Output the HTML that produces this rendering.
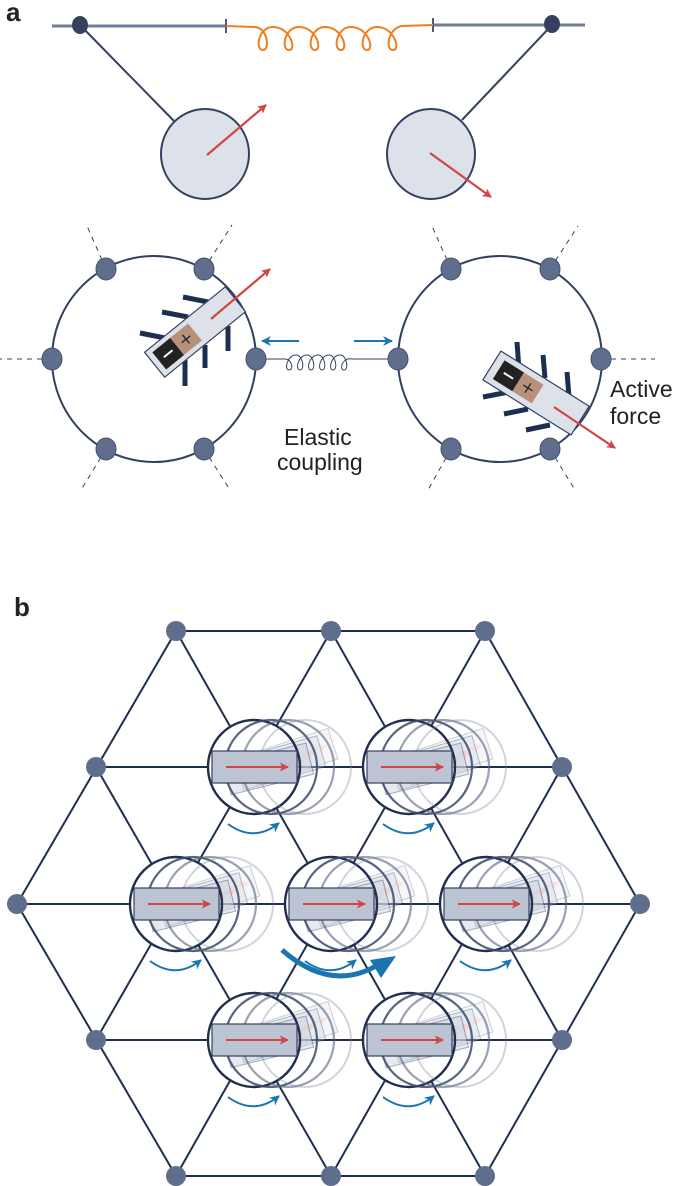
<!DOCTYPE html>
<html><head><meta charset="utf-8"><style>
html,body{margin:0;padding:0;background:#fff;}
svg{display:block;}
text{font-family:"Liberation Sans",sans-serif;}
</style></head><body>
<svg width="682" height="1186" viewBox="0 0 682 1186" xmlns="http://www.w3.org/2000/svg">
<defs>
<marker id="ar" markerWidth="9" markerHeight="9" refX="8" refY="4.5" orient="auto" markerUnits="userSpaceOnUse"><path d="M0,0 L9,4.5 L0,9 L2,4.5Z" fill="#d04545"/></marker>
<marker id="arg" markerWidth="9" markerHeight="9" refX="8" refY="4.5" orient="auto" markerUnits="userSpaceOnUse"><path d="M0,0 L9,4.5 L0,9 L2,4.5Z" fill="#e8a090"/></marker>
<marker id="ab" markerWidth="10" markerHeight="10" refX="9" refY="5" orient="auto" markerUnits="userSpaceOnUse"><path d="M0,0 L10,5 L0,10 L3,5Z" fill="#1a75b0"/></marker>
<g id="cell">
  <ellipse cx="0" cy="0" rx="46" ry="47" fill="#fff" stroke="none"/>
  <line x1="0" y1="0" x2="100" y2="0" stroke="#1f2f4f" stroke-width="2"/>
  <g transform="translate(38,-10) rotate(-18)" opacity="0.25"><rect x="-42" y="-16" width="85" height="32" fill="#d8dde8" stroke="#33415f"/><line x1="10" y1="0" x2="36" y2="0" stroke="#e8a090" stroke-width="2" marker-end="url(#arg)"/></g>
  <g transform="translate(26,-4) rotate(-16)" opacity="0.35"><rect x="-42" y="-16" width="85" height="32" fill="#d0d6e2" stroke="#33415f"/><line x1="10" y1="0" x2="36" y2="0" stroke="#e8a090" stroke-width="2" marker-end="url(#arg)"/></g>
  <g transform="translate(14,2) rotate(-14)" opacity="0.45"><rect x="-42" y="-16" width="85" height="32" fill="#c8cfdc" stroke="#33415f"/><line x1="10" y1="0" x2="36" y2="0" stroke="#e8a090" stroke-width="2" marker-end="url(#arg)"/></g>
  <ellipse cx="0" cy="0" rx="46" ry="47" fill="none" stroke="#1f2f4f" stroke-width="2.4"/>
  <ellipse cx="17" cy="0" rx="46" ry="47" fill="none" stroke="#3c4a68" stroke-width="2.2" opacity="0.85"/>
  <ellipse cx="34" cy="0" rx="46" ry="47" fill="none" stroke="#56627e" stroke-width="2.2" opacity="0.6"/>
  <ellipse cx="51" cy="0" rx="46" ry="47" fill="none" stroke="#7a84a0" stroke-width="2" opacity="0.35"/>
  <rect x="-42" y="-16" width="85" height="32" fill="#bcc4d4" stroke="#33415f" stroke-width="1.2"/>
  <line x1="-28" y1="0" x2="34" y2="0" stroke="#d04545" stroke-width="2" marker-end="url(#ar)"/>
  <path d="M-26,57 Q0,76 25,56" fill="none" stroke="#1a75b0" stroke-width="2" marker-end="url(#ab)"/>
</g>
</defs>

<!-- Panel a -->
<text x="6" y="21" font-size="26" font-weight="bold" fill="#222">a</text>
<line x1="52" y1="26" x2="226" y2="26" stroke="#6e7d98" stroke-width="3"/>
<line x1="433" y1="25" x2="585" y2="25" stroke="#6e7d98" stroke-width="3"/>
<line x1="226" y1="19" x2="226" y2="33" stroke="#4a5a78" stroke-width="2"/>
<line x1="433" y1="18" x2="433" y2="32" stroke="#4a5a78" stroke-width="2"/>
<path d="M226,26 L255,27 C268,28 270,50 263,50 C255,50 258,28 272,27 C290,26 297,50 289,50 C281,50 284,28 298,27 C316,26 323,50 315,50 C307,50 310,28 324,27 C342,26 349,50 341,50 C333,50 336,28 350,27 C368,26 375,50 367,50 C359,50 362,28 376,27 C394,26 401,50 393,50 C385,50 388,28 402,26 L433,25" fill="none" stroke="#f07f22" stroke-width="2"/>
<line x1="80" y1="25" x2="174" y2="121" stroke="#33415f" stroke-width="2"/>
<line x1="552" y1="25" x2="462" y2="120" stroke="#33415f" stroke-width="2"/>
<ellipse cx="80" cy="25" rx="8" ry="9" fill="#33415f"/>
<ellipse cx="552" cy="24" rx="8" ry="9" fill="#33415f"/>
<ellipse cx="205" cy="154" rx="44" ry="45" fill="#dde2ea" stroke="#33415f" stroke-width="2"/>
<ellipse cx="431" cy="154" rx="44" ry="45" fill="#dde2ea" stroke="#33415f" stroke-width="2"/>
<line x1="207" y1="155" x2="266" y2="105" stroke="#d04545" stroke-width="2.2" marker-end="url(#ar)"/>
<line x1="430" y1="153" x2="491" y2="197" stroke="#d04545" stroke-width="2.2" marker-end="url(#ar)"/>

<g stroke="#33415f" stroke-width="1" stroke-dasharray="5,5">
<line x1="106" y1="269" x2="87" y2="226"/><line x1="204" y1="269" x2="232" y2="225"/>
<line x1="52" y1="359" x2="0" y2="359"/><line x1="106" y1="449" x2="81" y2="490"/><line x1="204" y1="449" x2="230" y2="490"/>
<line x1="451" y1="269" x2="432" y2="226"/><line x1="550" y1="269" x2="578" y2="226"/>
<line x1="601" y1="359" x2="655" y2="359"/><line x1="451" y1="449" x2="428" y2="490"/><line x1="550" y1="449" x2="575" y2="490"/>
</g>
<ellipse cx="154" cy="359" rx="102" ry="103" fill="none" stroke="#33415f" stroke-width="2"/>
<ellipse cx="500" cy="359" rx="102" ry="103" fill="none" stroke="#33415f" stroke-width="2"/>
<path d="M256,359 L285,359 C292,359 294,370 289,370 C284,370 287,355 296,355 C303,355 305,370 300,370 C295,370 298,355 307,355 C314,355 316,370 311,370 C306,370 309,355 318,355 C325,355 327,370 322,370 C317,370 320,355 329,355 C336,355 338,370 333,370 C328,370 331,355 340,355 C347,355 349,370 344,370 C339,370 342,357 352,359 L398,359" fill="none" stroke="#33415f" stroke-width="1"/>
<line x1="299" y1="341" x2="262" y2="341" stroke="#1a75b0" stroke-width="2" marker-end="url(#ab)"/>
<line x1="354" y1="341" x2="392" y2="341" stroke="#1a75b0" stroke-width="2" marker-end="url(#ab)"/>
<g fill="#5e6e8c" stroke="#44526e" stroke-width="1">
<ellipse cx="106" cy="269" rx="10" ry="11"/><ellipse cx="204" cy="269" rx="10" ry="11"/>
<ellipse cx="52" cy="359" rx="10" ry="11"/><ellipse cx="256" cy="359" rx="10" ry="11"/>
<ellipse cx="106" cy="449" rx="10" ry="11"/><ellipse cx="204" cy="449" rx="10" ry="11"/>
<ellipse cx="451" cy="269" rx="10" ry="11"/><ellipse cx="550" cy="269" rx="10" ry="11"/>
<ellipse cx="398" cy="359" rx="10" ry="11"/><ellipse cx="601" cy="359" rx="10" ry="11"/>
<ellipse cx="451" cy="449" rx="10" ry="11"/><ellipse cx="550" cy="449" rx="10" ry="11"/>
</g>
<g stroke="#1d2f4f" stroke-width="5">
<line x1="140" y1="333" x2="165" y2="338"/><line x1="162" y1="312" x2="188" y2="317"/><line x1="183" y1="297" x2="208" y2="302"/>
<line x1="185" y1="360" x2="185" y2="386"/><line x1="205" y1="345" x2="205" y2="368"/><line x1="228" y1="326" x2="228" y2="351"/>
</g>
<g transform="translate(195,332) rotate(-39)">
<rect x="-52" y="-16" width="104" height="32" fill="#dde2ea" stroke="#33415f" stroke-width="1.2"/>
<rect x="-46" y="-11" width="23" height="22" fill="#222"/>
<rect x="-23" y="-11" width="23" height="22" fill="#b8917a"/>
<line x1="-40" y1="0" x2="-29" y2="0" stroke="#fff" stroke-width="2"/>
<line x1="-17" y1="0" x2="-6" y2="0" stroke="#222" stroke-width="1.3"/><line x1="-11.5" y1="-5.5" x2="-11.5" y2="5.5" stroke="#222" stroke-width="1.3"/>
</g>
<line x1="211" y1="319" x2="270" y2="269" stroke="#d04545" stroke-width="2.2" marker-end="url(#ar)"/>
<g stroke="#1d2f4f" stroke-width="5">
<line x1="517" y1="342" x2="519" y2="370"/><line x1="543" y1="355" x2="545" y2="378"/><line x1="567" y1="372" x2="569" y2="397"/>
<line x1="483" y1="397" x2="509" y2="392"/><line x1="504" y1="414" x2="528" y2="409"/><line x1="526" y1="430" x2="550" y2="425"/>
</g>
<g transform="translate(536,393) rotate(32)">
<rect x="-52" y="-17" width="104" height="34" fill="#dde2ea" stroke="#33415f" stroke-width="1.2"/>
<rect x="-44" y="-11" width="23" height="22" fill="#222"/>
<rect x="-21" y="-11" width="23" height="22" fill="#b8917a"/>
<line x1="-38" y1="0" x2="-27" y2="0" stroke="#fff" stroke-width="2"/>
<line x1="-15" y1="0" x2="-4" y2="0" stroke="#222" stroke-width="1.3"/><line x1="-9.5" y1="-5.5" x2="-9.5" y2="5.5" stroke="#222" stroke-width="1.3"/>
</g>
<line x1="554" y1="407" x2="615" y2="448" stroke="#d04545" stroke-width="2.2" marker-end="url(#ar)"/>
<text x="284" y="445" font-size="23" fill="#222">Elastic</text>
<text x="277" y="470" font-size="23" fill="#222">coupling</text>
<text x="610" y="397" font-size="23" fill="#222">Active</text>
<text x="610" y="424" font-size="23" fill="#222">force</text>

<!-- Panel b -->
<text x="14" y="616" font-size="26" font-weight="bold" fill="#222">b</text>
<g stroke="#1f2f4f" stroke-width="2">
<line x1="176" y1="631" x2="485" y2="631"/>
<line x1="96" y1="767" x2="562" y2="767"/>
<line x1="17" y1="904" x2="640" y2="904"/>
<line x1="96" y1="1040" x2="562" y2="1040"/>
<line x1="176" y1="1176" x2="485" y2="1176"/>
<line x1="176" y1="631" x2="17" y2="904"/>
<line x1="331" y1="631" x2="96" y2="1040"/>
<line x1="485" y1="631" x2="176" y2="1176"/>
<line x1="562" y1="767" x2="331" y2="1176"/>
<line x1="640" y1="904" x2="485" y2="1176"/>
<line x1="485" y1="631" x2="640" y2="904"/>
<line x1="331" y1="631" x2="562" y2="1040"/>
<line x1="176" y1="631" x2="485" y2="1176"/>
<line x1="96" y1="767" x2="331" y2="1176"/>
<line x1="17" y1="904" x2="176" y2="1176"/>
</g>
<g fill="#5e6e8c">
<circle cx="176" cy="631" r="10"/><circle cx="331" cy="631" r="10"/><circle cx="485" cy="631" r="10"/>
<circle cx="96" cy="767" r="10"/><circle cx="562" cy="767" r="10"/>
<circle cx="17" cy="904" r="10"/><circle cx="640" cy="904" r="10"/>
<circle cx="96" cy="1040" r="10"/><circle cx="562" cy="1040" r="10"/>
<circle cx="176" cy="1176" r="10"/><circle cx="331" cy="1176" r="10"/><circle cx="485" cy="1176" r="10"/>
</g>
<use href="#cell" x="254" y="767"/>
<use href="#cell" x="409" y="767"/>
<use href="#cell" x="176" y="904"/>
<use href="#cell" x="331" y="904"/>
<use href="#cell" x="486" y="904"/>
<use href="#cell" x="254" y="1040"/>
<use href="#cell" x="409" y="1040"/>
<path d="M282,950 Q330,992 376,966" fill="none" stroke="#1a75b0" stroke-width="5"/>
<path d="M396,956 L370,960 L381,978 Z" fill="#1a75b0"/>
</svg>
</body></html>
